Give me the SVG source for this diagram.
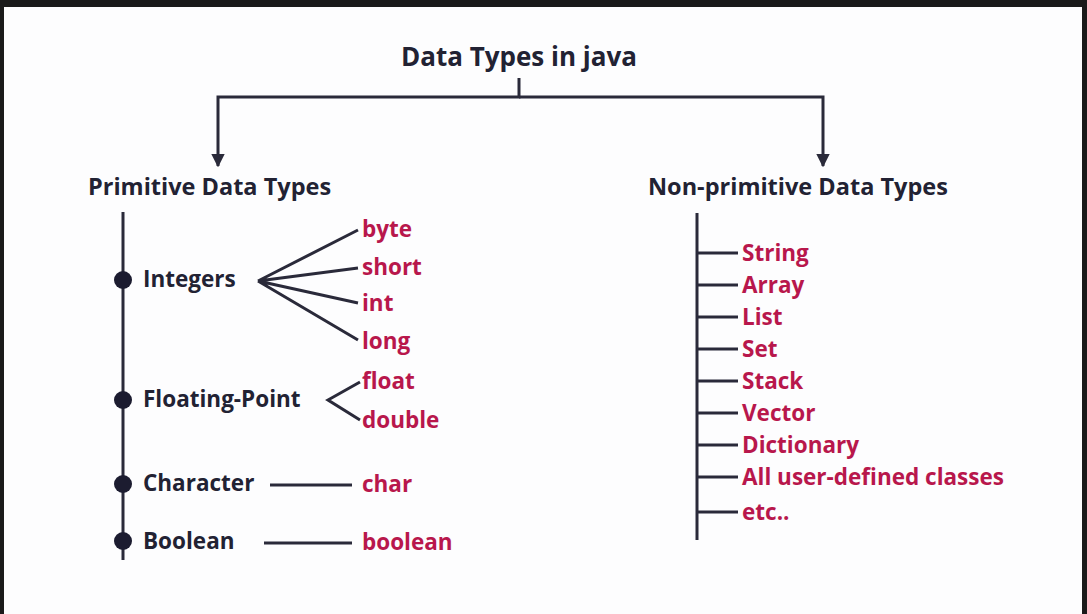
<svg xmlns="http://www.w3.org/2000/svg" width="1087" height="614" viewBox="0 0 1087 614">
<style>
.t{font-family:"Open Sans","Liberation Sans",sans-serif;font-weight:bold;fill:#222233}
.r{font-family:"Open Sans","Liberation Sans",sans-serif;font-weight:bold;fill:#b8174c;font-size:22.5px}
.l{stroke:#2a2a3a;stroke-width:3;fill:none}
</style>
<defs><marker id="a" viewBox="0 0 10 10" refX="9" refY="5" markerWidth="4.5" markerHeight="4.5" orient="auto"><path d="M0,0 L10,5 L0,10 z" fill="#2a2a3a"/></marker></defs>
<rect width="1087" height="614" fill="#1a1a1a"/>
<rect x="4" y="7" width="1078" height="607" fill="#fdfdfe"/>
<g id="connectors">
<path class="l" d="M519,78 V97 H218 V166" marker-end="url(#a)"/>
<path class="l" d="M519,97 H823 V166" marker-end="url(#a)"/>
<path class="l" d="M123,212 V560"/>
<path class="l" d="M258,281 L358,230 M258,281 L358,268 M258,281 L358,303 M258,281 L358,340"/>
<path class="l" d="M360,382 L328,400 L360,420"/>
<path class="l" d="M270,485 H352 M264,543 H352"/>
<path class="l" d="M697,213 V540 M697,253 H738 M697,285 H738 M697,317 H738 M697,349 H738 M697,381 H738 M697,413 H738 M697,445 H738 M697,477 H738 M697,512 H738"/>
</g>
<g fill="#1c1c30"><circle cx="123" cy="280" r="9"/><circle cx="123" cy="400" r="9"/><circle cx="123" cy="484" r="9"/><circle cx="123" cy="541" r="9"/></g>
<g id="title"><text class="t" x="519" y="66" font-size="26" text-anchor="middle">Data Types in java</text></g>
<g id="primitive"><text class="t" x="88" y="195" font-size="23.5">Primitive Data Types</text></g>
<g id="nonprimitive"><text class="t" x="648" y="195" font-size="23.5">Non-primitive Data Types</text></g>
<g id="integers"><text class="t" x="143" y="287" font-size="22.5">Integers</text></g>
<g id="floating"><text class="t" x="143" y="407" font-size="22.5">Floating-Point</text></g>
<g id="character"><text class="t" x="143" y="491" font-size="22.5">Character</text></g>
<g id="boolean"><text class="t" x="143" y="549" font-size="22.5">Boolean</text></g>
<g id="leaves">
<text class="r" x="362" y="237">byte</text>
<text class="r" x="362" y="275">short</text>
<text class="r" x="362" y="311">int</text>
<text class="r" x="362" y="349">long</text>
<text class="r" x="362" y="389">float</text>
<text class="r" x="362" y="428">double</text>
<text class="r" x="362" y="492">char</text>
<text class="r" x="362" y="550">boolean</text>
<text class="r" x="742" y="261">String</text>
<text class="r" x="742" y="293">Array</text>
<text class="r" x="742" y="325">List</text>
<text class="r" x="742" y="357">Set</text>
<text class="r" x="742" y="389">Stack</text>
<text class="r" x="742" y="421">Vector</text>
<text class="r" x="742" y="453">Dictionary</text>
<text class="r" x="742" y="485">All user-defined classes</text>
<text class="r" x="742" y="520">etc..</text>
</g>
</svg>
